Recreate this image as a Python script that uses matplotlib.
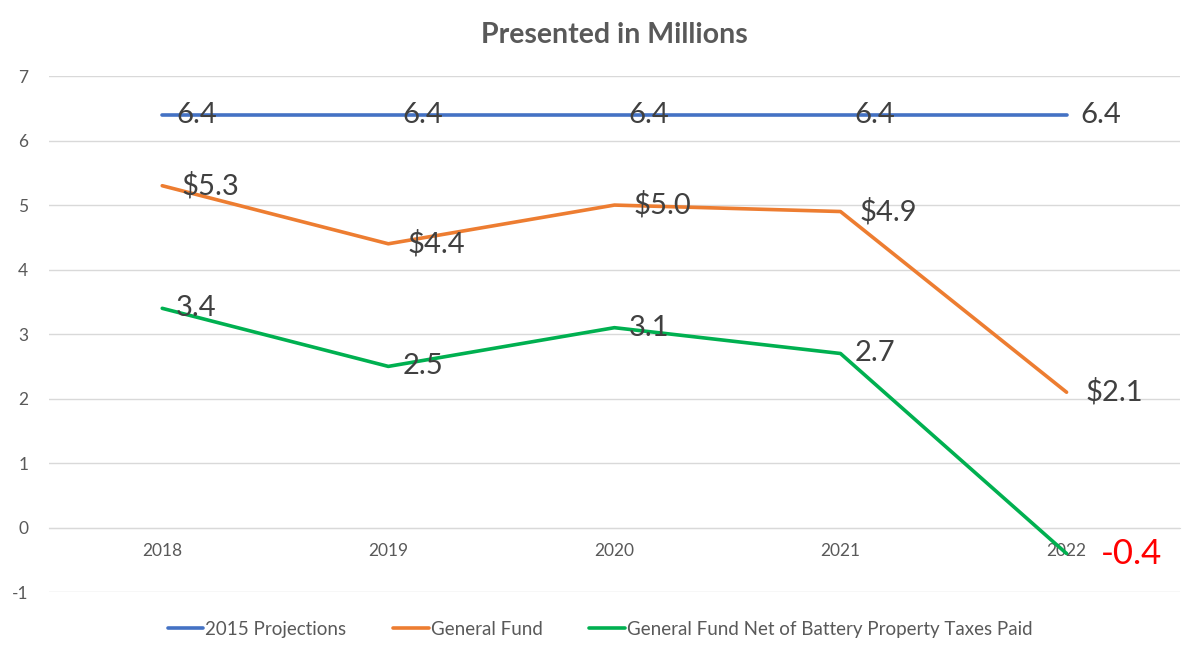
import numpy as np
import matplotlib.pyplot as plt

plt.rcParams['font.family'] = ['Lato', 'DejaVu Sans']
plt.rcParams['axes.unicode_minus'] = False

years = ['2018', '2019', '2020', '2021', '2022']
projections = [6.4, 6.4, 6.4, 6.4, 6.4]
general_fund = [5.3, 4.4, 5.0, 4.9, 2.1]
net_of_battery = [3.4, 2.5, 3.1, 2.7, -0.4]

fig = plt.figure(figsize=(12, 6.61), dpi=100)
ax = fig.add_axes([0.041, 0.104, 0.942, 0.781])

x = np.arange(len(years))
series = [
    (projections, '#4472C4', '2015 Projections', '{:.1f}', 10),
    (general_fund, '#ED7D31', 'General Fund', '${:.1f}', 14),
    (net_of_battery, '#00B050', 'General Fund Net of Battery Property Taxes Paid', '{:.1f}', 10),
]

for vals, col, lab, fmt, off in series:
    ax.plot(x, vals, color=col, lw=2.6, label=lab, solid_capstyle='round', zorder=3)
    for xi, v in zip(x, vals):
        if v < 0:
            # negative value is shown bigger and in red
            ax.annotate(fmt.format(v), (xi, v), xytext=(25, 0), textcoords='offset points',
                        va='center', ha='left', fontsize=25, color='red', zorder=4)
        else:
            ax.annotate(fmt.format(v), (xi, v), xytext=(off, 0), textcoords='offset points',
                        va='center', ha='left', fontsize=21, color='#404040', zorder=4)

ax.set_xlim(-0.5, len(years) - 0.5)
ax.set_ylim(-1, 7)
ax.set_yticks(range(-1, 8))
ax.grid(axis='y', color='#D9D9D9', lw=1)
ax.set_axisbelow(True)
for s in ['top', 'right', 'left']:
    ax.spines[s].set_visible(False)
ax.spines['bottom'].set_position(('data', 0))
ax.spines['bottom'].set_color('#D9D9D9')
ax.set_xticks(x)
ax.set_xticklabels(years)
ax.tick_params(axis='x', length=0, pad=11, labelsize=12.5, labelcolor='#595959')
ax.tick_params(axis='y', length=0, pad=15, labelsize=12.5, labelcolor='#595959')

ax.set_title('Presented in Millions', fontsize=20.5, fontweight='bold', color='#595959', pad=24)

fig.legend(loc='lower center', bbox_to_anchor=(0.5, 0.01), ncol=3, frameon=False,
           fontsize=13.5, handlelength=1.9, handletextpad=0.1, columnspacing=2.5,
           labelcolor='#595959')

fig.savefig('out.png', dpi=100)
